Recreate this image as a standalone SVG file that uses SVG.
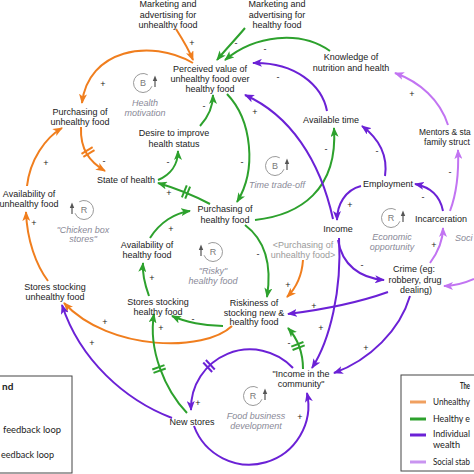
<svg xmlns="http://www.w3.org/2000/svg" xmlns:xlink="http://www.w3.org/1999/xlink" width="474" height="474" viewBox="0 0 474 474">
<style>
.n{font-family:"Liberation Sans",Arial,sans-serif;font-size:9px;fill:#1b1b1b;text-anchor:middle}
.gr{font-family:"Liberation Sans",Arial,sans-serif;font-size:9px;fill:#9a9a9a;text-anchor:middle}
.lp{font-family:"Liberation Sans",Arial,sans-serif;font-size:9px;font-style:italic;fill:#8a8a98;text-anchor:middle}
.ll{font-family:"Liberation Sans",Arial,sans-serif;font-size:9px;fill:#7a7a7a;text-anchor:middle}
.s{font-family:"Liberation Sans",Arial,sans-serif;font-size:9px;fill:#222;text-anchor:middle}
.lg{font-family:Lato,"Liberation Sans",sans-serif;font-size:10px;fill:#222}
.lr{font-family:Lato,"Liberation Sans",sans-serif;font-size:9px;fill:#222}
.c{fill:none;stroke-width:2}
.o{stroke:#F07E1E}.g{stroke:#2DA12D}.p{stroke:#6B21D6}.k{stroke:#C274F2}
.d line{stroke-width:2}
</style>
<defs>
<marker id="aO" viewBox="0 0 10 8" markerWidth="10" markerHeight="8" refX="9" refY="4" orient="auto" markerUnits="userSpaceOnUse"><path d="M0,0 L10,4 L0,8 L2.5,4z" fill="#F07E1E"/></marker>
<marker id="aG" viewBox="0 0 10 8" markerWidth="10" markerHeight="8" refX="9" refY="4" orient="auto" markerUnits="userSpaceOnUse"><path d="M0,0 L10,4 L0,8 L2.5,4z" fill="#2DA12D"/></marker>
<marker id="aP" viewBox="0 0 10 8" markerWidth="10" markerHeight="8" refX="9" refY="4" orient="auto" markerUnits="userSpaceOnUse"><path d="M0,0 L10,4 L0,8 L2.5,4z" fill="#6B21D6"/></marker>
<marker id="aK" viewBox="0 0 10 8" markerWidth="10" markerHeight="8" refX="9" refY="4" orient="auto" markerUnits="userSpaceOnUse"><path d="M0,0 L10,4 L0,8 L2.5,4z" fill="#C274F2"/></marker>
<g id="loopIcon">
<path d="M4.75,-8.23 A9.5,9.5 0 1 0 8.93,3.25" fill="none" stroke="#9a9a9a" stroke-width="1"/>
<line x1="12" y1="4" x2="12" y2="-3" stroke="#555" stroke-width="1.2"/>
<path d="M9.8,-2 L14.2,-2 L12,-7.5z" fill="#555"/>
</g>
</defs>
<rect width="474" height="474" fill="#fff"/>

<g id="connectors">
<path class="c o" marker-end="url(#aO)" d="M176,29 C183,40 189,50 193,60"/>
<path class="c o" marker-end="url(#aO)" d="M193,63 C150,38 88,50 82,103"/>
<path class="c o" marker-end="url(#aO)" d="M81,127 C80,150 90,162 105,171"/>
<path class="c o" marker-end="url(#aO)" d="M27,186 C30,160 45,138 62,128"/>
<path class="c o" marker-end="url(#aO)" d="M48,281 C36,265 27,240 26,212"/>
<path class="c o" marker-end="url(#aO)" d="M232,326 C205,352 110,352 64,303"/>
<path class="c o" marker-end="url(#aO)" d="M303,260 C302,275 296,288 287,297"/>

<path class="c g" marker-end="url(#aG)" d="M245,28 C235,40 225,50 217,60"/>
<path class="c g" marker-end="url(#aG)" d="M330,51 C300,30 255,35 225,60"/>
<path class="c g" marker-end="url(#aG)" d="M200,126 C210,115 213,105 213,95"/>
<path class="c g" marker-end="url(#aG)" d="M227,94 C252,120 257,170 237,202"/>
<path class="c g" marker-end="url(#aG)" d="M158,180 C170,175 178,165 178,151"/>
<path class="c g" marker-end="url(#aG)" d="M210,204 C195,196 175,188 158,183"/>
<path class="c g" marker-end="url(#aG)" d="M255,220 C300,215 338,190 334,128"/>
<path class="c g" marker-end="url(#aG)" d="M150,238 C160,222 175,213 190,211"/>
<path class="c g" marker-end="url(#aG)" d="M245,225 C265,240 272,265 267,297"/>
<path class="c g" marker-end="url(#aG)" d="M223,326 C205,326 185,322 172,316"/>
<path class="c g" marker-end="url(#aG)" d="M149,296 C145,285 142,275 143,263"/>
<path class="c g" marker-end="url(#aG)" d="M187,413 C165,390 148,350 154,314"/>
<path class="c g" marker-end="url(#aG)" d="M303,369 C303,352 297,338 288,328"/>

<path class="c p" marker-end="url(#aP)" d="M327,111 C322,85 295,62 253,63"/>
<path class="c p" marker-end="url(#aP)" d="M333,219 C320,160 290,115 245,95"/>
<path class="c p" marker-end="url(#aP)" d="M385,176 C388,155 378,138 362,126"/>
<path class="c p" marker-end="url(#aP)" d="M361,186 C345,190 337,205 337,220"/>
<path class="c p" marker-end="url(#aP)" d="M443,211 C440,195 430,187 415,184"/>
<path class="c p" marker-end="url(#aP)" d="M338,240 C342,265 360,278 384,280"/>
<path class="c p" marker-end="url(#aP)" d="M410,296 C400,330 370,360 334,373"/>
<path class="c p" marker-end="url(#aP)" d="M388,292 C360,302 320,310 288,314"/>
<path class="c p" marker-end="url(#aP)" d="M339,238 C342,290 330,340 312,368"/>
<path class="c p" marker-end="url(#aP)" d="M172,418 C125,400 80,360 62,305"/>
<path class="c p" marker-end="url(#aP)" d="M293,368 A59,59 0 0 0 191,410"/>
<path class="c p" marker-end="url(#aP)" d="M194,426 A59,59 0 0 0 307,393"/>

<path class="c k" marker-end="url(#aK)" d="M430,263 C438,252 443,240 443,228"/>
<path class="c k" marker-end="url(#aK)" d="M450,211 C456,195 459,175 458,150"/>
<path class="c k" marker-end="url(#aK)" d="M448,125 C440,100 420,82 395,73"/>
<path class="c k" marker-end="url(#aK)" d="M474,279 C465,283 455,286 444,286"/>

<g class="d" stroke="#F07E1E" transform="translate(88,152) rotate(59)"><line x1="-1.8" y1="-6.5" x2="-1.8" y2="6.5"/><line x1="1.8" y1="-6.5" x2="1.8" y2="6.5"/></g>
<g class="d" stroke="#2DA12D" transform="translate(186,192) rotate(22)"><line x1="-1.8" y1="-6.5" x2="-1.8" y2="6.5"/><line x1="1.8" y1="-6.5" x2="1.8" y2="6.5"/></g>
<g class="d" stroke="#2DA12D" transform="translate(159,369) rotate(70)"><line x1="-1.8" y1="-6.5" x2="-1.8" y2="6.5"/><line x1="1.8" y1="-6.5" x2="1.8" y2="6.5"/></g>
<g class="d" stroke="#2DA12D" transform="translate(298,346) rotate(69)"><line x1="-1.8" y1="-6.5" x2="-1.8" y2="6.5"/><line x1="1.8" y1="-6.5" x2="1.8" y2="6.5"/></g>
<g class="d" stroke="#6B21D6" transform="translate(209,366) rotate(-43)"><line x1="-1.8" y1="-6.5" x2="-1.8" y2="6.5"/><line x1="1.8" y1="-6.5" x2="1.8" y2="6.5"/></g>

<g id="polarities" class="s">
<text x="192" y="46">+</text><text x="236" y="46">-</text><text x="265" y="52">-</text><text x="278" y="80">-</text>
<text x="255" y="115">+</text><text x="103" y="87">+</text><text x="204" y="109">-</text><text x="242" y="165">-</text>
<text x="168" y="165">-</text><text x="169" y="196">+</text><text x="104" y="164">-</text><text x="46" y="166">+</text>
<text x="34" y="226">+</text><text x="171" y="232">+</text><text x="152" y="281">+</text><text x="258" y="257">-</text>
<text x="288" y="288">+</text><text x="314" y="309">+</text><text x="193" y="322">-</text><text x="161" y="331">+</text>
<text x="321" y="331">+</text><text x="289" y="346">-</text><text x="198" y="406">+</text><text x="300" y="420">+</text>
<text x="366" y="351">+</text><text x="105" y="325">+</text><text x="92" y="346">+</text><text x="326" y="152">-</text>
<text x="377" y="154">-</text><text x="412" y="97">+</text><text x="450" y="175">-</text><text x="423" y="200">-</text>
<text x="350" y="208">+</text><text x="434" y="248">+</text><text x="362" y="268">-</text>
</g>
</g>

<g id="n-mkt-unhealthy"><text class="n" x="168" y="7">Marketing and<tspan x="168" y="18">advertising for</tspan><tspan x="168" y="28">unhealthy food</tspan></text></g>
<g id="n-mkt-healthy"><text class="n" x="277" y="7">Marketing and<tspan x="277" y="18">advertising for</tspan><tspan x="277" y="28">healthy food</tspan></text></g>
<g id="n-perceived"><text class="n" x="210" y="72">Perceived value of<tspan x="210" y="82">unhealthy food over</tspan><tspan x="210" y="92">healthy food</tspan></text></g>
<g id="n-knowledge"><text class="n" x="351" y="60">Knowledge of<tspan x="351" y="71">nutrition and health</tspan></text></g>
<g id="n-purch-unhealthy"><text class="n" x="80" y="115">Purchasing of<tspan x="80" y="125">unhealthy food</tspan></text></g>
<g id="n-desire"><text class="n" x="174" y="136">Desire to improve<tspan x="174" y="147">health status</tspan></text></g>
<g id="n-state"><text class="n" x="126" y="183">State of health</text></g>
<g id="n-purch-healthy"><text class="n" x="225" y="212">Purchasing of<tspan x="225" y="223">healthy food</tspan></text></g>
<g id="n-avail-time"><text class="n" x="331" y="123">Available time</text></g>
<g id="n-employment"><text class="n" x="388" y="187">Employment</text></g>
<g id="n-income"><text class="n" x="338" y="232">Income</text></g>
<g id="n-mentors"><text class="n" x="419" y="135" style="text-anchor:start;font-size:8.4px">Mentors &amp; sta</text><text class="n" x="424" y="145" style="text-anchor:start;font-size:8.6px">family struct</text></g>
<g id="n-incarceration"><text class="n" x="441" y="222">Incarceration</text></g>
<g id="n-crime"><text class="n" x="414" y="272">Crime (eg:<tspan x="415" y="283">robbery, drug</tspan><tspan x="416" y="293">dealing)</tspan></text></g>
<g id="n-avail-unhealthy"><text class="n" x="29" y="197">Availability of<tspan x="29" y="207">unhealthy food</tspan></text></g>
<g id="n-stores-unhealthy"><text class="n" x="55" y="290">Stores stocking<tspan x="55" y="300">unhealthy food</tspan></text></g>
<g id="n-avail-healthy"><text class="n" x="147" y="248">Availability of<tspan x="147" y="258">healthy food</tspan></text></g>
<g id="n-purch-unhealthy-ref"><text class="gr" x="303" y="248">&lt;Purchasing of<tspan x="303" y="258">unhealthy food&gt;</tspan></text></g>
<g id="n-stores-healthy"><text class="n" x="158" y="305">Stores stocking<tspan x="158" y="315">healthy food</tspan></text></g>
<g id="n-riskiness"><text class="n" x="254" y="306">Riskiness of<tspan x="254" y="316">stocking new &amp;</tspan><tspan x="254" y="325">healthy food</tspan></text></g>
<g id="n-income-community"><text class="n" x="301" y="377">"Income in the<tspan x="301" y="387">community"</tspan></text></g>
<g id="n-new-stores"><text class="n" x="192" y="425">New stores</text></g>
<g id="n-social-stability"><text class="lp" x="455" y="241" style="text-anchor:start">Soci</text></g>

<g id="loop-health-motivation"><use xlink:href="#loopIcon" href="#loopIcon" transform="translate(143,83)"/><text class="ll" x="143" y="86">B</text><text class="lp" x="145" y="106">Health<tspan x="145" y="116">motivation</tspan></text></g>
<g id="loop-time-tradeoff"><use xlink:href="#loopIcon" href="#loopIcon" transform="translate(275,166)"/><text class="ll" x="275" y="169">B</text><text class="lp" x="277" y="188">Time trade-off</text></g>
<g id="loop-chicken-box"><use xlink:href="#loopIcon" href="#loopIcon" transform="translate(84,210) scale(-1,1)"/><text class="ll" x="84" y="213">R</text><text class="lp" x="83" y="233">"Chicken box<tspan x="83" y="242">stores"</tspan></text></g>
<g id="loop-risky"><use xlink:href="#loopIcon" href="#loopIcon" transform="translate(213,252) scale(-1,1)"/><text class="ll" x="213" y="255">R</text><text class="lp" x="213" y="274">"Risky"<tspan x="213" y="284">healthy food</tspan></text></g>
<g id="loop-economic"><use xlink:href="#loopIcon" href="#loopIcon" transform="translate(391,218)"/><text class="ll" x="391" y="221">R</text><text class="lp" x="392" y="240">Economic<tspan x="392" y="250">opportunity</tspan></text></g>
<g id="loop-food-business"><use xlink:href="#loopIcon" href="#loopIcon" transform="translate(253,396)"/><text class="ll" x="253" y="399">R</text><text class="lp" x="256" y="419">Food business<tspan x="256" y="429">development</tspan></text></g>

<g id="legend-left">
<rect x="-5" y="376" width="77" height="97" fill="#fff" stroke="#444" stroke-width="1"/>
<text class="lg" x="2" y="390" style="font-weight:bold">nd</text>
<text class="lg" x="3" y="433" textLength="58" lengthAdjust="spacingAndGlyphs">feedback loop</text>
<text class="lg" x="1" y="458" textLength="53" lengthAdjust="spacingAndGlyphs">eedback loop</text>
</g>
<g id="legend-right">
<rect x="401" y="375" width="80" height="96" fill="#fff" stroke="#444" stroke-width="1"/>
<text class="lr" x="460" y="389" style="font-weight:bold" textLength="10" lengthAdjust="spacingAndGlyphs">The</text>
<line x1="410" y1="402" x2="426" y2="402" stroke="#F0A060" stroke-width="3"/>
<text class="lr" x="433" y="405" textLength="37" lengthAdjust="spacingAndGlyphs">Unhealthy</text>
<line x1="410" y1="419" x2="426" y2="419" stroke="#2DA12D" stroke-width="3"/>
<text class="lr" x="433" y="422" textLength="37" lengthAdjust="spacingAndGlyphs">Healthy e</text>
<line x1="410" y1="435" x2="426" y2="435" stroke="#6B21D6" stroke-width="3"/>
<text class="lr" x="433" y="437" textLength="37" lengthAdjust="spacingAndGlyphs">Individual</text>
<text class="lr" x="433" y="448" textLength="27" lengthAdjust="spacingAndGlyphs">wealth</text>
<line x1="410" y1="462" x2="426" y2="462" stroke="#C994F0" stroke-width="3"/>
<text class="lr" x="433" y="465" textLength="37" lengthAdjust="spacingAndGlyphs">Social stab</text>
</g>
</svg>
